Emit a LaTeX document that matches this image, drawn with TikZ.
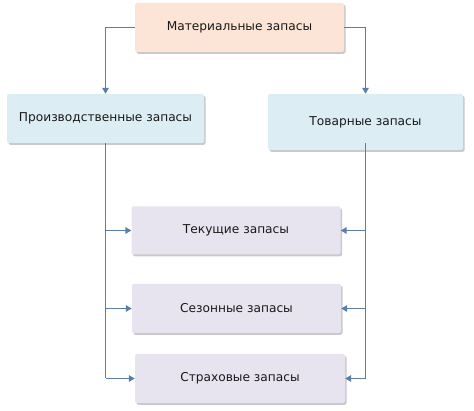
\documentclass[tikz,border=0pt]{standalone}
\usepackage{fontspec}
\setmainfont{DejaVu Sans}
\usetikzlibrary{shadows,arrows.meta}
\definecolor{peach}{HTML}{FCE4D6}
\definecolor{lblue}{HTML}{DCEDF3}
\definecolor{lav}{HTML}{E7E4EF}
\definecolor{lnc}{HTML}{5A7EA8}
\tikzset{
  box/.style={rounded corners=2pt, draw=none, font=\fontsize{12.2}{14}\selectfont, text=black!90,
    drop shadow={shadow xshift=1.5pt, shadow yshift=-1.8pt, fill=black!35, opacity=0.6}},
  conn/.style={draw=lnc, line width=1.6pt, -{Triangle[length=6pt,width=6.5pt]}},
  plain/.style={draw=lnc, line width=1.6pt}
}
\begin{document}
\begin{tikzpicture}[x=1pt,y=-1pt]
\useasboundingbox (0,0) rectangle (474,411);
\node[box, fill=peach, minimum width=209pt, minimum height=49pt] (mat) at (239.5,27.5) {Материальные запасы};
\node[box, fill=lblue, minimum width=197pt, minimum height=49pt] (pro) at (105.5,118.5) {Производственные запасы};
\node[box, fill=lblue, minimum width=195pt, minimum height=56pt] (tov) at (365.5,122) {Товарные запасы};
\node[box, fill=lav, minimum width=209pt, minimum height=48pt] (tek) at (236,230.5) {Текущие запасы};
\node[box, fill=lav, minimum width=209pt, minimum height=49pt] (sez) at (236.5,308.5) {Сезонные запасы};
\node[box, fill=lav, minimum width=210pt, minimum height=49pt] (str) at (240,378.5) {Страховые запасы};
\coordinate (lx) at (105.5,0);
\coordinate (rx) at (365.5,0);
\coordinate (rtop) at (365.5,143);
\draw[conn] (mat.west) -| (pro.north);
\draw[conn] (mat.east) -| (tov.north);
\draw[plain] (pro.south) -- (lx |- str.west);
\draw[plain] (rtop) -- (rx |- str.east);
\draw[conn] (lx |- tek.west) -- (tek.west);
\draw[conn] (lx |- sez.west) -- (sez.west);
\draw[conn] (lx |- str.west) -- (str.west);
\draw[conn] (rx |- tek.east) -- (tek.east);
\draw[conn] (rx |- sez.east) -- (sez.east);
\draw[conn] (rx |- str.east) -- (str.east);
\end{tikzpicture}
\end{document}
